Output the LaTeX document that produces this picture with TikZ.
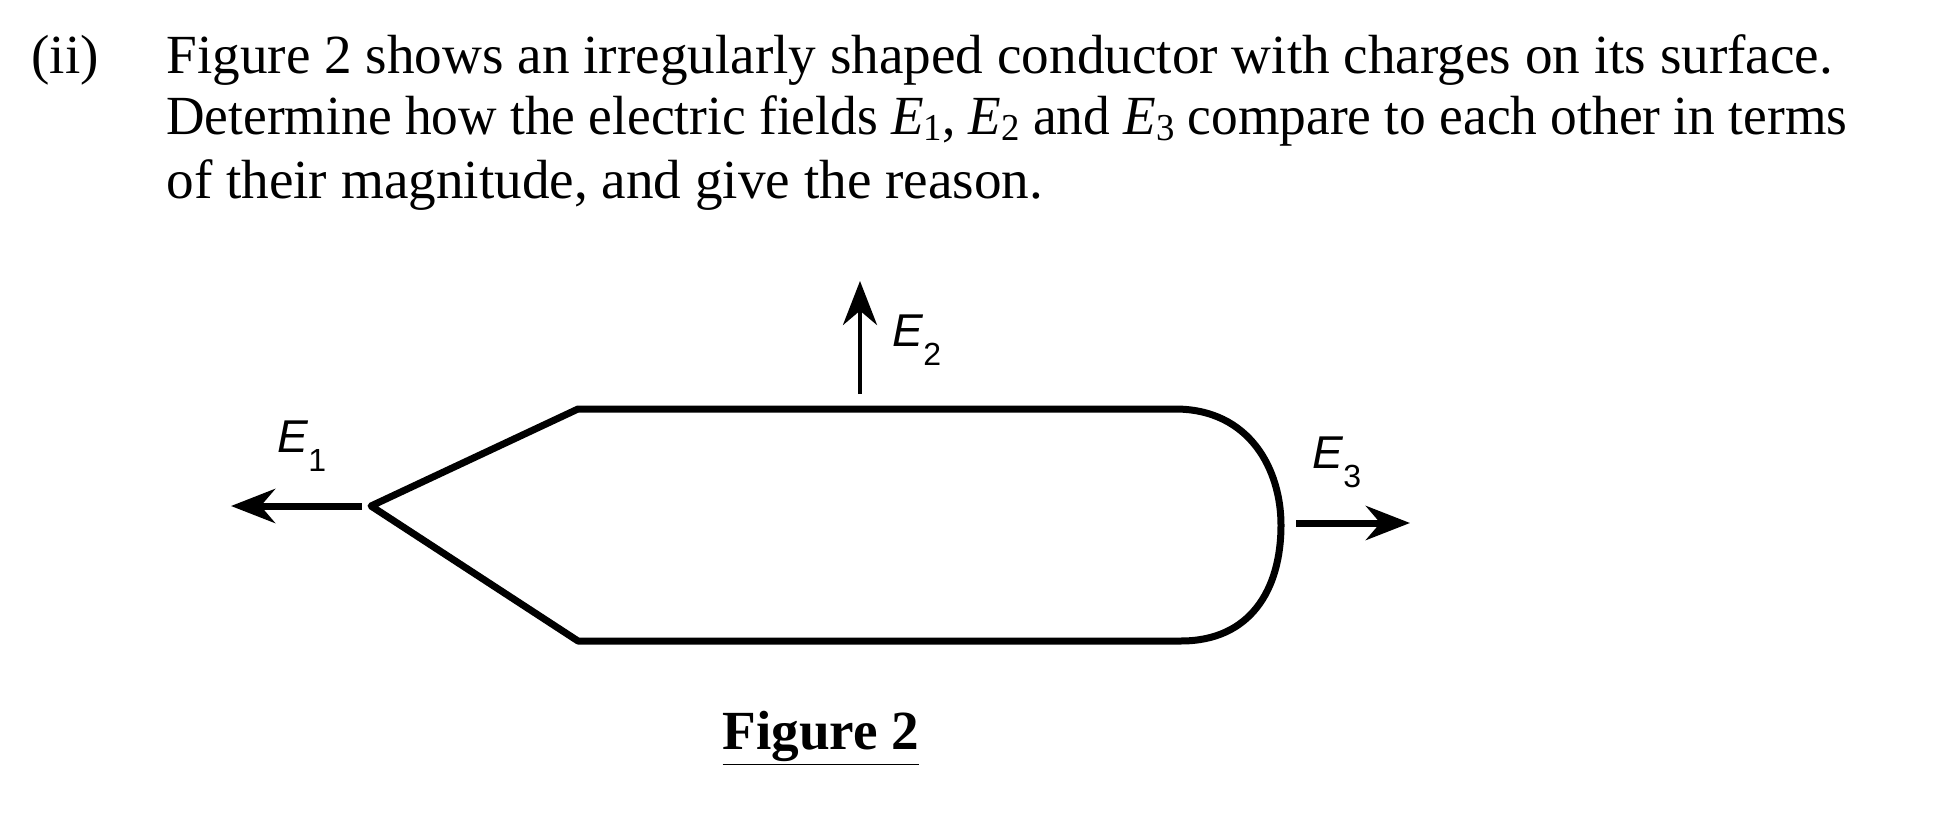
\documentclass[tikz,border=0pt]{standalone}
\usepackage{fontspec}
\setmainfont{Liberation Serif}
\setsansfont{Liberation Sans}
\usetikzlibrary{arrows.meta}
\newcommand{\Eq}[1]{\textit{E}\raisebox{-0.25ex}{\fontsize{19}{19}\selectfont #1}}
\newcommand{\El}[1]{{\sffamily\itshape E}\raisebox{-0.9ex}{\sffamily\fontsize{16}{16}\selectfont #1}}
\begin{document}
\begin{tikzpicture}[x=0.5pt,y=-0.5pt,
  body/.style={line width=3.5pt,line join=round},
  field/.style={line width=3.5pt,-{Stealth[length=22pt,width=17pt]}},
  qtext/.style={anchor=west,inner sep=0pt,font=\fontsize{27.6}{27.6}\selectfont},
  lab/.style={inner sep=0pt,font=\fontsize{23}{23}\selectfont}]
\useasboundingbox (0,0) rectangle (1950,824);
\node[qtext] (n) at (31,60) {(ii)};
\node[qtext] (l1) at (166,60) {Figure 2 shows an irregularly shaped conductor with charges on its surface.};
\node[qtext] (l2) at (166,121) {\scalebox{0.967}[1]{Determine how the electric fields \Eq{1}, \Eq{2} and \Eq{3} compare to each other in terms}};
\node[qtext] (l3) at (166,185) {of their magnitude, and give the reason.};
\coordinate (tip) at (371,506);
\coordinate (tl) at (578,409);
\coordinate (tr) at (1175,409);
\coordinate (ap) at (1281,525);
\coordinate (br) at (1181,641);
\coordinate (bl) at (578,641);
\draw[body] (tip) -- (tl) -- (tr) .. controls (1250,409) and (1281,470) .. (ap) .. controls (1281,590) and (1250,641) .. (br) -- (bl) -- cycle;
\coordinate (a1) at (362,506); \coordinate (b1) at (231,506);
\coordinate (a2) at (860,394); \coordinate (b2) at (860,281);
\coordinate (a3) at (1296,523); \coordinate (b3) at (1410,523);
\draw[field] (a1) -- (b1);
\draw[field,line width=2.2pt] (a2) -- (b2);
\draw[field] (a3) -- (b3);
\node[lab] (e1) at (302,446) {\El{1}};
\node[lab] (e2) at (917,340) {\El{2}};
\node[lab] (e3) at (1337,462) {\El{3}};
\node[inner sep=0pt,font=\fontsize{27.6}{27.6}\selectfont\bfseries] (fig) at (821,738) {\underline{Figure 2}};
\end{tikzpicture}
\end{document}
